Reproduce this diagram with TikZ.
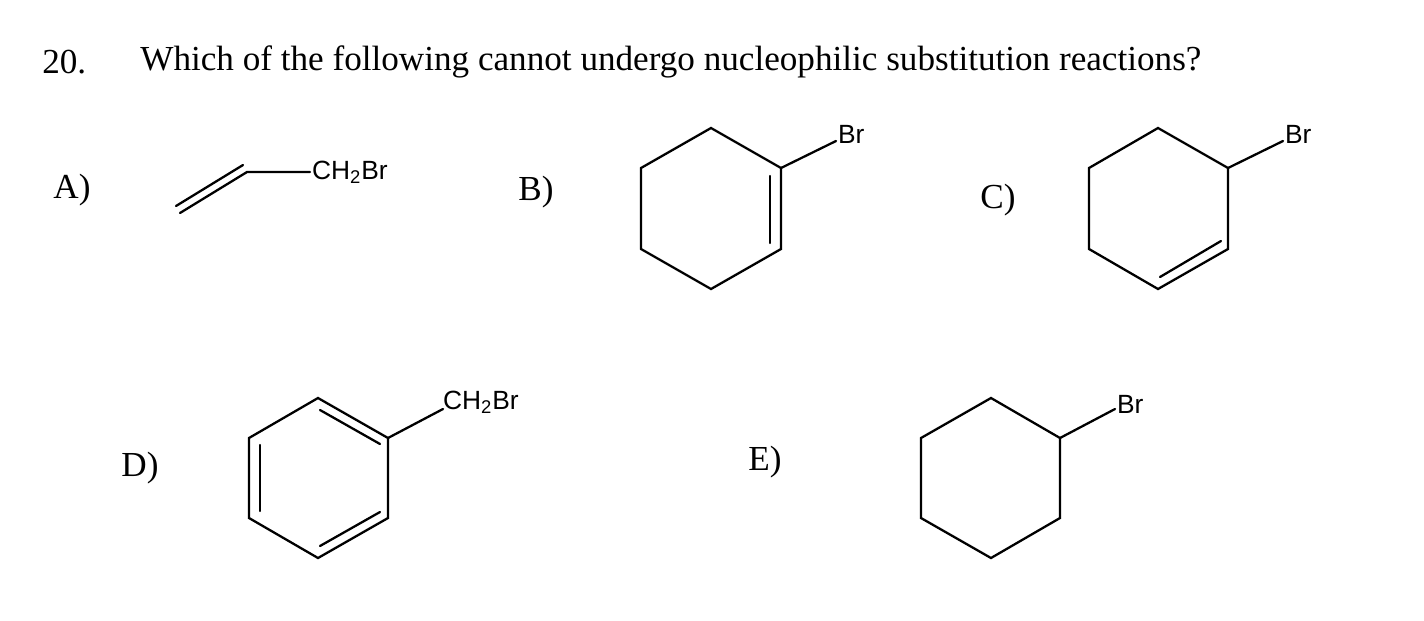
\documentclass[tikz,border=0pt]{standalone}
\usepackage{fontspec}
\setmainfont{Liberation Serif}
\newfontfamily\chemfont{Liberation Sans}
\begin{document}
\begin{tikzpicture}[x=0.02cm,y=-0.02cm,
  bond/.style={line width=1.3pt,line cap=round},
  lab/.style={font=\fontsize{20}{24}\selectfont,inner sep=0pt},
  atom/.style={font=\chemfont\fontsize{15}{18}\selectfont,inner sep=1pt}]
\useasboundingbox (0,0) rectangle (1424,620);
\node[lab,anchor=west] (q) at (42,62) {20.};
\node[lab,anchor=west] (qt) at (140,62) {Which of the following cannot undergo nucleophilic substitution reactions?};
\node[lab] (la) at (72,190) {A)};
\node[lab] (lb) at (536,192) {B)};
\node[lab] (lc) at (998,200) {C)};
\node[lab] (ld) at (140,468) {D)};
\node[lab] (le) at (765,462) {E)};
% A
\coordinate (a1) at (180,213); \coordinate (a2) at (247,172); \coordinate (a3) at (310,172);
\coordinate (a1b) at (176,206); \coordinate (a2b) at (243,165);
\draw[bond] (a1)--(a2)--(a3);
\draw[bond] (a1b)--(a2b);
\node[atom,anchor=west] (aBr) at (310,172) {CH\textsubscript{2}Br};
% B
\foreach \n/\x/\y in {b1/711/128,b2/781/168,b3/781/249,b4/711/289,b5/641/249,b6/641/168}
  \coordinate (\n) at (\x,\y);
\draw[bond] (b1)--(b2)--(b3)--(b4)--(b5)--(b6)--cycle;
\draw[bond] (770,176)--(770,243);
\draw[bond] (b2)--(836,141);
\node[atom,anchor=south west] (bBr) at (836,146) {Br};
% C
\foreach \n/\x/\y in {c1/1158/128,c2/1228/168,c3/1228/249,c4/1158/289,c5/1089/249,c6/1089/168}
  \coordinate (\n) at (\x,\y);
\draw[bond] (c1)--(c2)--(c3)--(c4)--(c5)--(c6)--cycle;
\draw[bond] (1160,277)--(1221,241);
\draw[bond] (c2)--(1283,141);
\node[atom,anchor=south west] (cBr) at (1283,146) {Br};
% D
\foreach \n/\x/\y in {d1/318/398,d2/388/438,d3/388/518,d4/318/558,d5/249/518,d6/249/438}
  \coordinate (\n) at (\x,\y);
\draw[bond] (d1)--(d2)--(d3)--(d4)--(d5)--(d6)--cycle;
\draw[bond] (260,445)--(260,511);
\draw[bond] (320,410)--(380,444);
\draw[bond] (320,546)--(380,512);
\draw[bond] (d2)--(443,409);
\node[atom,anchor=south west] (dBr) at (441,416) {CH\textsubscript{2}Br};
% E
\foreach \n/\x/\y in {e1/991/398,e2/1060/438,e3/1060/518,e4/991/558,e5/921/518,e6/921/438}
  \coordinate (\n) at (\x,\y);
\draw[bond] (e1)--(e2)--(e3)--(e4)--(e5)--(e6)--cycle;
\draw[bond] (e2)--(1115,409);
\node[atom,anchor=south west] (eBr) at (1115,416) {Br};
\end{tikzpicture}
\end{document}
